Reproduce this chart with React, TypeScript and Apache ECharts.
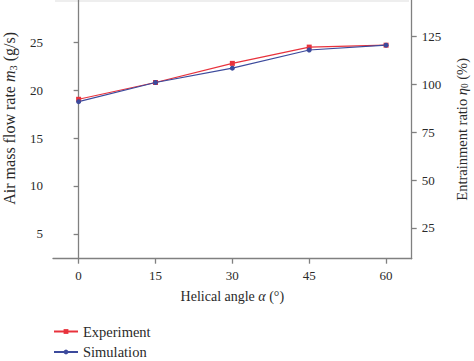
import React, { useEffect, useRef } from "react";
import * as echarts from "echarts";

const angles = [0, 15, 30, 45, 60];
const experiment = [19.05, 20.8, 22.8, 24.5, 24.7];
const simulation = [18.8, 20.8, 22.3, 24.2, 24.7];
const leftTicks = [5, 10, 15, 20, 25];
const rightTicks = [25, 50, 75, 100, 125];

const FONT = "Liberation Serif";
const TEXT = "#2a2a2a";
const AXIS = "#808080";
const RED = "#e8323c";
const BLUE = "#3c4a9c";

export default function App() {
  const ref = useRef<HTMLDivElement>(null);
  useEffect(() => {
    if (!ref.current) return;
    const chart = echarts.init(ref.current, undefined, { renderer: "svg" });
    const axisLineStyle = { color: AXIS, width: 1.3 };
    const labelStyle = { fontFamily: FONT, fontSize: 13, color: TEXT };
    const nameStyle = (size: number, pad?: number[]) => ({
      fontFamily: FONT,
      fontSize: size,
      color: TEXT,
      ...(pad ? { padding: pad } : {}),
      rich: {
        i: { fontFamily: FONT, fontSize: size, fontStyle: "italic", color: TEXT },
        s: { fontFamily: FONT, fontSize: size * 0.65, color: TEXT, padding: [size * 0.4, 0, 0, 0] },
      },
    });
    chart.setOption({
      animation: false,
      textStyle: { fontFamily: FONT },
      grid: {
        left: 53,
        right: 62.3,
        top: 0,
        bottom: 102.3,
        containLabel: false,
        outerBoundsMode: "none",
      },
      graphic: [
        {
          type: "rect",
          shape: { x: 55, y: 0, width: 354, height: 2 },
          style: { fill: "#eeeeee" },
          silent: true,
        },
      ],
      legend: {
        orient: "vertical",
        left: 53,
        top: 324,
        height: 40,
        padding: 0,
        itemWidth: 24,
        itemHeight: 6,
        itemGap: 5.5,
        textStyle: { fontFamily: FONT, fontSize: 14.5, color: TEXT, lineHeight: 15 },
        data: ["Experiment", "Simulation"],
      },
      xAxis: {
        type: "value",
        min: -5,
        max: 65,
        splitLine: { show: false },
        axisLine: { show: true, onZero: false, lineStyle: axisLineStyle },
        axisTick: { show: true, length: 5, lineStyle: axisLineStyle, customValues: angles },
        axisLabel: { ...labelStyle, margin: 10, customValues: angles },
        name: "Helical angle {i|α} (°)",
        nameLocation: "middle",
        nameGap: 31,
        nameTextStyle: nameStyle(14),
      },
      yAxis: [
        {
          type: "value",
          position: "left",
          min: 2.4,
          max: 29.42,
          splitLine: { show: false },
          axisLine: { show: true, lineStyle: axisLineStyle },
          axisTick: { show: true, length: 5, lineStyle: axisLineStyle, customValues: leftTicks },
          axisLabel: { ...labelStyle, margin: 10, customValues: leftTicks },
          name: "Air mass flow rate {i|m}{s|3} (g/s)",
          nameLocation: "middle",
          nameGap: 35,
          nameTextStyle: nameStyle(16, [0, 0, 0, 22]),
        },
        {
          type: "value",
          position: "right",
          min: 9.0,
          max: 143.8,
          splitLine: { show: false },
          axisLine: { show: true, lineStyle: axisLineStyle },
          axisTick: { show: true, length: 5, lineStyle: axisLineStyle, customValues: rightTicks },
          axisLabel: { ...labelStyle, margin: 10, customValues: rightTicks },
          name: "Entrainment ratio {i|η}{s|0} (%)",
          nameLocation: "middle",
          nameGap: 43,
          nameTextStyle: nameStyle(14.5),
        },
      ],
      series: [
        {
          name: "Experiment",
          type: "line",
          yAxisIndex: 0,
          symbol: "rect",
          symbolSize: 5,
          itemStyle: { color: RED },
          lineStyle: { color: RED, width: 1.2 },
          data: angles.map((a, i) => [a, experiment[i]]),
        },
        {
          name: "Simulation",
          type: "line",
          yAxisIndex: 0,
          symbol: "circle",
          symbolSize: 5,
          itemStyle: { color: BLUE },
          lineStyle: { color: BLUE, width: 1.2 },
          data: angles.map((a, i) => [a, simulation[i]]),
        },
      ],
    });
    return () => chart.dispose();
  }, []);
  return (
    <div
      ref={ref}
      style={{ position: "absolute", left: 0, top: 0, width: 474, height: 361 }}
    />
  );
}
